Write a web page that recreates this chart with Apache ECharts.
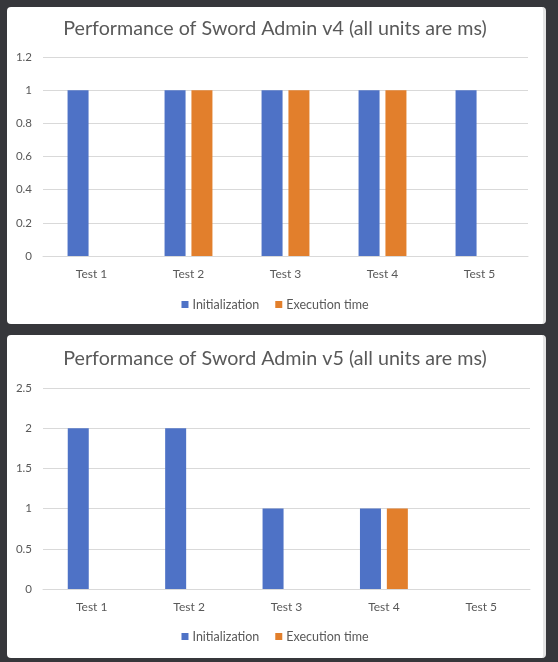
<!DOCTYPE html>
<html>
<head>
<meta charset="utf-8">
<script src="https://cdn.jsdelivr.net/npm/echarts@6/dist/echarts.min.js"></script>
<style>
  html, body { margin: 0; padding: 0; background: #36373b; width: 558px; height: 662px; overflow: hidden; }
  .panel { position: absolute; left: 7px; width: 536px; background: #fff; border-radius: 4px; border-right: 3px solid #e4e4e4; }
  #p1 { top: 7px; height: 317px; }
  #p2 { top: 335px; height: 323px; }
  .chart { width: 536px; height: 100%; }
</style>
</head>
<body>
<div class="panel" id="p1"><div class="chart" id="c1"></div></div>
<div class="panel" id="p2"><div class="chart" id="c2"></div></div>
<script>
const categories = ['Test 1', 'Test 2', 'Test 3', 'Test 4', 'Test 5'];
const seriesNames = ['Initialization', 'Execution time'];
const v4Title = 'Performance of Sword Admin v4 (all units are ms)';
const v4Init = [1, 1, 1, 1, 1];
const v4Exec = [0, 1, 1, 1, 0];
const v4Axis = { min: 0, max: 1.2, interval: 0.2 };
const v5Title = 'Performance of Sword Admin v5 (all units are ms)';
const v5Init = [2, 2, 1, 1, 0];
const v5Exec = [0, 0, 0, 1, 0];
const v5Axis = { min: 0, max: 2.5, interval: 0.5 };

const FONT = 'Lato, "Open Sans", sans-serif';
const TXT = '#595959';
const colors = ['#4E72C6', '#E27F2C'];

function makeOption(title, init, exec, axis, lay) {
  return {
    animation: false,
    textStyle: { fontFamily: FONT },
    title: {
      text: title, left: 'center', top: lay.titleTop,
      textStyle: { fontFamily: FONT, fontSize: 19.7, fontWeight: 'normal', color: TXT }
    },
    legend: {
      data: seriesNames, bottom: lay.legendBottom, left: 'center',
      itemWidth: 7, itemHeight: 7, itemGap: 16, icon: 'rect',
      textStyle: { fontFamily: FONT, fontSize: 12.5, color: TXT, padding: [0, 0, 0, -1] }
    },
    grid: { left: 36, right: lay.gridRight, top: lay.gridTop, bottom: lay.gridBottom, containLabel: false },
    xAxis: {
      type: 'category', data: categories,
      axisLine: { lineStyle: { color: '#d9d9d9', width: 1 } },
      axisTick: { show: false },
      axisLabel: { color: TXT, fontSize: 12, fontFamily: FONT, margin: 12 }
    },
    yAxis: {
      type: 'value', min: axis.min, max: axis.max, interval: axis.interval,
      axisLine: { show: false }, axisTick: { show: false },
      splitLine: { lineStyle: { color: '#d9d9d9', width: 1 } },
      axisLabel: { color: TXT, fontSize: 11.5, fontFamily: FONT, margin: 11 }
    },
    series: [
      { name: seriesNames[0], type: 'bar', data: init, barWidth: 21, barGap: '28%', itemStyle: { color: colors[0] } },
      { name: seriesNames[1], type: 'bar', data: exec, barWidth: 21, barGap: '28%', itemStyle: { color: colors[1] } }
    ]
  };
}

const c1 = echarts.init(document.getElementById('c1'));
c1.setOption(makeOption(v4Title, v4Init, v4Exec, v4Axis,
  { titleTop: 7, legendBottom: 8, gridRight: 15, gridTop: 50, gridBottom: 68 }));
const c2 = echarts.init(document.getElementById('c2'));
c2.setOption(makeOption(v5Title, v5Init, v5Exec, v5Axis,
  { titleTop: 9, legendBottom: 10, gridRight: 13, gridTop: 53, gridBottom: 69 }));
</script>
</body>
</html>
